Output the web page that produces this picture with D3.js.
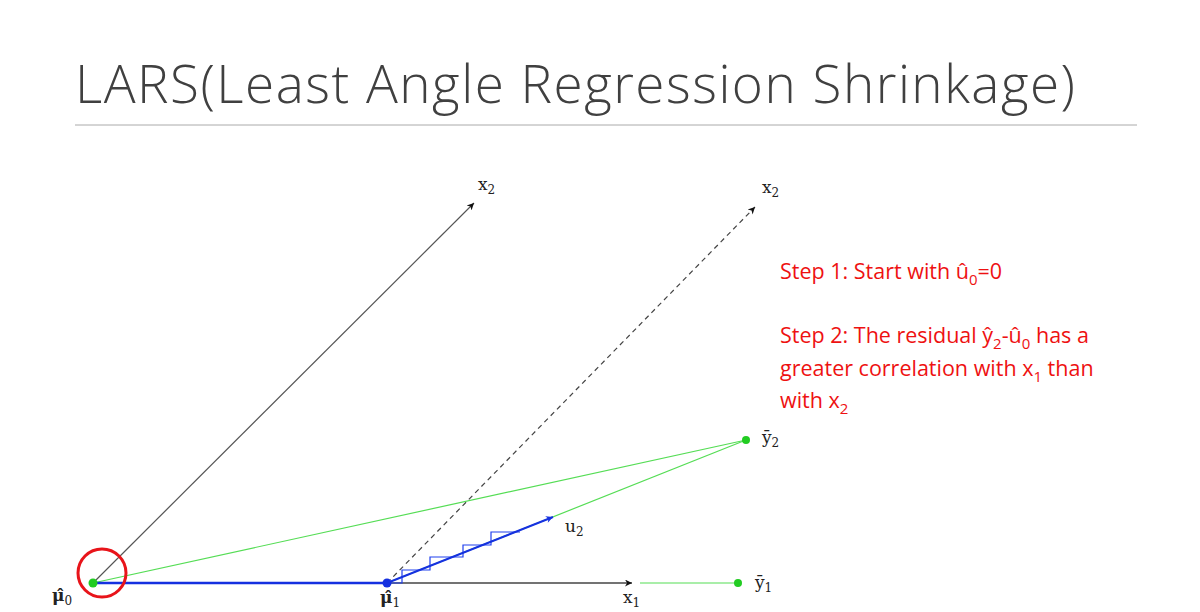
<!DOCTYPE html>
<html><head><meta charset="utf-8">
<script src="https://cdn.jsdelivr.net/npm/d3@7"></script>
<style>body{margin:0;background:#fff}</style>
</head><body>
<script>
const width = 1200, height = 612
// diagram points in picture units (origin at mu0, y up)
const pts = { mu0:[0,0], mu1:[294,0], x1end:[539,0], x2a:[381,380], x2b:[662,376], y2:[653,143], y1:[645,0], y1start:[547,0], u2:[460,66] }
const stairs = [[294,0],[309,0],[309,13],[337,13],[337,26],[370,26],[370,38],[398,38],[398,51],[427,51]]
const labels = [
  {t:'x', s:'2', p:[385,393]}, {t:'x', s:'2', p:[669,390]}, {t:'ȳ', s:'2', p:[669,140]},
  {t:'u', s:'2', p:[472,51]}, {t:'ȳ', s:'1', p:[662,-5]}, {t:'x', s:'1', p:[530,-20]},
  {t:'μ̂', s:'1', p:[287,-20]}, {t:'μ̂', s:'0', p:[-41,-18]}
]
const notes = [
  ['Step 1: Start with û', '0', '=0', 279],
  ['Step 2: The residual  ŷ', '2', '-û', '0', ' has a', 343],
  ['greater correlation with x', '1', ' than', 376],
  ['with x', '2', 408]
]

const x = d3.scaleLinear().domain([0,100]).range([93,193])
const y = d3.scaleLinear().domain([0,100]).range([583,483])
const P = k => [x(pts[k][0]), y(pts[k][1])]

const svg = d3.select('body').append('svg').attr('width',width).attr('height',height)
const defs = svg.append('defs')
function marker(id,color){
  defs.append('marker').attr('id',id).attr('viewBox','0 0 10 10').attr('refX',10).attr('refY',5)
    .attr('markerWidth',9).attr('markerHeight',7).attr('markerUnits','userSpaceOnUse').attr('orient','auto')
    .append('path').attr('d','M0,0L10,5L0,10L3,5Z').attr('fill',color)
}
marker('ak','#111'); marker('ab','#1530e0')

svg.append('text').attr('x',75).attr('y',103).attr('font-family','Open Sans').attr('font-weight',300)
  .attr('font-size',53).attr('fill','#404040').attr('textLength',1000).attr('lengthAdjust','spacing')
  .text('LARS(Least Angle Regression Shrinkage)')
svg.append('line').attr('x1',75).attr('x2',1137).attr('y1',125).attr('y2',125).attr('stroke','#aaa')

function line(a,b,col,w,extra){
  const l = svg.append('line').attr('x1',P(a)[0]).attr('y1',P(a)[1]).attr('x2',P(b)[0]).attr('y2',P(b)[1])
    .attr('stroke',col).attr('stroke-width',w)
  if(extra) extra(l)
  return l
}
line('mu0','x2a','#555',1.2,l=>l.attr('marker-end','url(#ak)'))
line('mu1','x2b','#444',1.2,l=>l.attr('stroke-dasharray','5,4').attr('marker-end','url(#ak)'))
line('mu0','y2','#55dd55',1.2)
line('mu1','y2','#55dd55',1.2)
line('mu1','x1end','#444',1.6,l=>l.attr('marker-end','url(#ak)'))
line('y1start','y1','#55dd55',1.2)
line('mu0','mu1','#1530e0',2.5)
svg.append('path').attr('d',d3.line().x(d=>x(d[0])).y(d=>y(d[1]))(stairs))
  .attr('fill','none').attr('stroke','#2040ee').attr('stroke-width',1.2)
line('mu1','u2','#1530e0',2,l=>l.attr('marker-end','url(#ab)'))

svg.append('circle').attr('cx',P('y2')[0]).attr('cy',P('y2')[1]).attr('r',4).attr('fill','#22cc22')
svg.append('circle').attr('cx',P('y1')[0]).attr('cy',P('y1')[1]).attr('r',4).attr('fill','#22cc22')
svg.append('circle').attr('cx',P('mu1')[0]).attr('cy',P('mu1')[1]).attr('r',4.5).attr('fill','#1530e0')
svg.append('circle').attr('cx',P('mu0')[0]).attr('cy',P('mu0')[1]).attr('r',4.5).attr('fill','#22cc22')
svg.append('circle').attr('cx',P('mu0')[0]+9).attr('cy',P('mu0')[1]-10).attr('r',24)
  .attr('fill','none').attr('stroke','#e8141a').attr('stroke-width',3)

labels.forEach(d=>{
  const t = svg.append('text').attr('x',x(d.p[0])).attr('y',y(d.p[1]))
    .attr('font-family','DejaVu Serif').attr('font-size',17).attr('fill','#222')
  t.append('tspan').text(d.t).attr('font-weight', d.t==='μ̂' ? 'bold' : 'normal')
  t.append('tspan').text(d.s).attr('font-size',12).attr('dy',4)
})

notes.forEach(n=>{
  const t = svg.append('text').attr('x',780).attr('y',n[n.length-1]).attr('font-family','Open Sans')
    .attr('font-size',21.5).attr('fill','#ee1111')
  n.slice(0,-1).forEach((s,i)=>{
    const sp = t.append('tspan').text(s)
    if(i%2===1) sp.attr('font-size',15).attr('dy',6)
    else if(i>0) sp.attr('dy',-6)
  })
})
</script>
</body></html>
